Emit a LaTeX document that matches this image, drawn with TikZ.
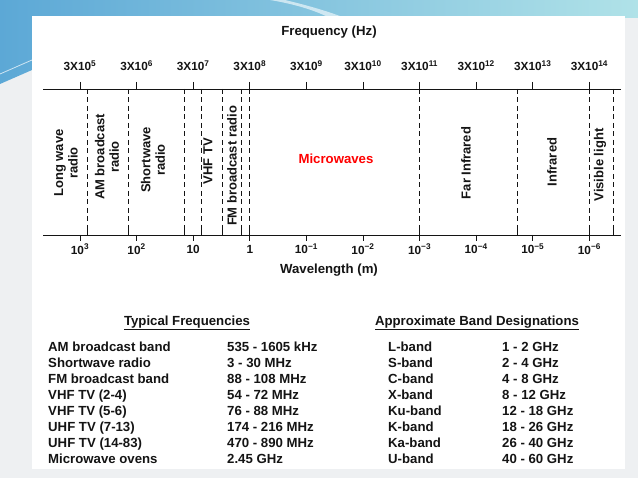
\documentclass[tikz,border=0pt]{standalone}
\usepackage{fontspec}
\setmainfont{Liberation Sans}
\definecolor{bgblue}{RGB}{92,168,214}
\definecolor{bgteal}{RGB}{176,226,232}
\definecolor{bggray}{RGB}{238,240,242}
\definecolor{inkc}{RGB}{20,20,20}
\begin{document}
\begin{tikzpicture}[x=1pt,y=-1pt,
  axisline/.style={draw=inkc,line width=0.8pt},
  dashline/.style={draw=inkc,line width=0.8pt,dash pattern=on 5pt off 3.5pt},
  ticklbl/.style={inner sep=0pt,font=\fontsize{11.8}{13}\selectfont\bfseries,text=inkc},
  bandlbl/.style={inner sep=0pt,rotate=90,align=center,font=\fontsize{13}{14.5}\selectfont\bfseries,text=inkc},
  title/.style={inner sep=0pt,font=\fontsize{13.2}{14}\selectfont\bfseries,text=inkc},
  row/.style={inner sep=0pt,anchor=base west,font=\fontsize{13.2}{14}\selectfont\bfseries,text=inkc}]
\useasboundingbox (0,0) rectangle (638,478);
% background
\fill[bggray] (0,0) rectangle (638,478);
\shade[left color=bgblue,right color=bgteal] (0,0) -- (638,0) -- (638,18) -- (32,18) -- (32,70) -- (0,84) -- cycle;
\fill[white,opacity=0.6] (285,0) .. controls (310,6) and (330,12) .. (345,18) -- (330,18) .. controls (318,12) and (300,5) .. (270,0) -- cycle;
\draw[white,opacity=0.7,line width=0.8pt] (0,74) -- (32,60);
\fill[white] (32,16) rectangle (625,469);
% titles
\node[title] (freq) at (329,32) {Frequency (Hz)};
\node[title] (wave) at (329,270) {Wavelength (m)};
% axes
\draw[axisline] (43,89) -- (621,89);
\draw[axisline] (43,235) -- (621,235);
\foreach \i/\e [count=\k from 0] in {0/5,1/6,2/7,3/8,4/9,5/10,6/11,7/12,8/13,9/14}{
  \draw[axisline] ({80+56.6*\i},82) -- ({80+56.6*\i},89);
  \draw[axisline] ({80+56.6*\i},235) -- ({80+56.6*\i},241);
  \node[ticklbl] (f\e) at ({80+56.6*\i},66) {3X10\textsuperscript{\e}};
}
\foreach \x/\t/\n in {80/10\textsuperscript{3}/w3,136.6/10\textsuperscript{2}/w2,193.2/10/w1,249.8/1/w0,306.4/10\textsuperscript{−1}/wm1,363/10\textsuperscript{−2}/wm2,419.6/10\textsuperscript{−3}/wm3,476.2/10\textsuperscript{−4}/wm4,532.8/10\textsuperscript{−5}/wm5,589.4/10\textsuperscript{−6}/wm6}{
  \node[ticklbl] (\n) at (\x,249) {\t};
}
% dashed band boundaries with small ticks
\foreach \x in {87,128.5,184.5,201.5,222,241.5,249.8,419.6,517,589.4,613}{
  \draw[dashline] (\x,89) -- (\x,235);
  \draw[axisline] (\x,229) -- (\x,235);
}
% band labels
\node[bandlbl] (lw) at (66,163) {Long wave\\radio};
\node[bandlbl] (am) at (107,157) {AM broadcast\\radio};
\node[bandlbl] (sw) at (153,160) {Shortwave\\radio};
\node[bandlbl] (vhf) at (208,161) {VHF TV};
\node[bandlbl] (fm) at (232,166) {FM broadcast radio};
\node[title,text=red] (mw) at (336,159) {Microwaves};
\node[bandlbl] (fir) at (466,163) {Far Infrared};
\node[bandlbl] (ir) at (552,162) {Infrared};
\node[bandlbl] (vis) at (600,165) {Visible light};
% tables
\node[title] (tf) at (187,323) {\underline{Typical Frequencies}};
\node[title] (ab) at (477,323) {\underline{Approximate Band Designations}};
\foreach \a/\b/\c/\d [count=\r from 0] in {
  AM broadcast band/535 - 1605 kHz/L-band/1 - 2 GHz,
  Shortwave radio/3 - 30 MHz/S-band/2 - 4 GHz,
  FM broadcast band/88 - 108 MHz/C-band/4 - 8 GHz,
  VHF TV (2-4)/54 - 72 MHz/X-band/8 - 12 GHz,
  VHF TV (5-6)/76 - 88 MHz/Ku-band/12 - 18 GHz,
  UHF TV (7-13)/174 - 216 MHz/K-band/18 - 26 GHz,
  UHF TV (14-83)/470 - 890 MHz/Ka-band/26 - 40 GHz,
  Microwave ovens/2.45 GHz/U-band/40 - 60 GHz}{
  \node[row] (ta\r) at (48,{351.5+16.05*\r}) {\a};
  \node[row] (tb\r) at (227,{351.5+16.05*\r}) {\b};
  \node[row] (tc\r) at (388,{351.5+16.05*\r}) {\c};
  \node[row] (td\r) at (502,{351.5+16.05*\r}) {\d};
}
\end{tikzpicture}
\end{document}
